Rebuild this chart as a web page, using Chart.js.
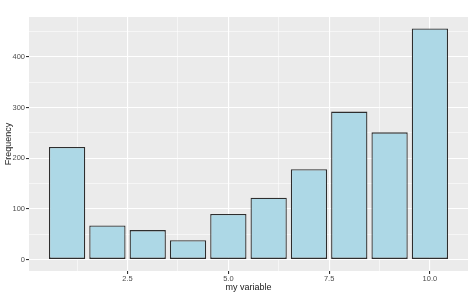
<!DOCTYPE html>
<html>
<head>
<meta charset="utf-8">
<script src="https://cdn.jsdelivr.net/npm/chart.js@4/dist/chart.umd.min.js"></script>
<style>
  html, body { margin: 0; padding: 0; background: #fff; }
  #wrap { width: 474px; height: 296px; }
</style>
</head>
<body>
<div id="wrap"><canvas id="histChart"></canvas></div>
<script>
// histogram bins of "my variable" and their counts
const binCenters = [1, 2, 3, 4, 5, 6, 7, 8, 9, 10];
const frequencies = [222, 67, 58, 38, 90, 122, 178, 292, 251, 456];

// axis ticks (major ones get labels, minor ones only a grid line)
const xTicks = [1.25, 2.5, 3.75, 5.0, 6.25, 7.5, 8.75, 10.0];
const xLabels = ['2.5', '5.0', '7.5', '10.0'];
const yTicks = [0, 50, 100, 150, 200, 250, 300, 350, 400, 450];
const yLabels = ['0', '100', '200', '300', '400'];

const isMajorX = v => xLabels.includes(v.toFixed(1));
const isMajorY = v => yLabels.includes(String(v));

const panelBg = {
    id: 'panelBg',
    beforeDraw(chart) {
        const { ctx, chartArea: a } = chart;
        ctx.save();
        ctx.fillStyle = '#EBEBEB';
        ctx.fillRect(a.left, a.top, a.right - a.left, a.bottom - a.top);
        ctx.restore();
    }
};

const ctx = document.getElementById('histChart').getContext('2d');
new Chart(ctx, {
    type: 'bar',
    data: {
        datasets: [{
            label: 'count',
            data: binCenters.map((x, i) => ({ x: x, y: frequencies[i] })),
            backgroundColor: '#ADD8E6',
            borderColor: '#2E2E2E',
            borderWidth: 1.3,
            borderSkipped: false,
            categoryPercentage: 1,
            barPercentage: 0.9
        }]
    },
    plugins: [panelBg],
    options: {
        responsive: true,
        maintainAspectRatio: false,
        animation: false,
        layout: { padding: { top: 17, right: 6, left: 0, bottom: 0 } },
        plugins: { legend: { display: false }, tooltip: { enabled: false } },
        scales: {
            x: {
                type: 'linear',
                min: 0.055,
                max: 10.945,
                offset: false,
                afterBuildTicks: s => { s.ticks = xTicks.map(v => ({ value: v })); },
                afterFit: s => { s.height = 25; },
                border: { display: false },
                grid: {
                    offset: false,
                    color: '#FFFFFF',
                    lineWidth: c => isMajorX(c.tick.value) ? 1.1 : 0.55,
                    tickLength: 3,
                    tickColor: c => isMajorX(c.tick.value) ? '#333333' : 'rgba(0,0,0,0)'
                },
                ticks: {
                    padding: 0.5,
                    maxRotation: 0,
                    autoSkip: false,
                    color: '#4D4D4D',
                    font: { family: 'Liberation Sans', size: 7.5 },
                    callback: v => isMajorX(v) ? v.toFixed(1) : ''
                },
                title: {
                    display: true,
                    text: 'my variable',
                    color: '#1A1A1A',
                    font: { family: 'Liberation Sans', size: 9 },
                    padding: { top: 0, bottom: 3 }
                }
            },
            y: {
                min: -22.8,
                max: 478.8,
                afterBuildTicks: s => { s.ticks = yTicks.map(v => ({ value: v })); },
                afterFit: s => { s.width = 29; },
                border: { display: false },
                grid: {
                    color: '#FFFFFF',
                    lineWidth: c => isMajorY(c.tick.value) ? 1.1 : 0.55,
                    tickLength: 3,
                    tickColor: c => isMajorY(c.tick.value) ? '#333333' : 'rgba(0,0,0,0)'
                },
                ticks: {
                    padding: 1,
                    autoSkip: false,
                    color: '#4D4D4D',
                    font: { family: 'Liberation Sans', size: 7.5 },
                    callback: v => isMajorY(v) ? String(v) : ''
                },
                title: {
                    display: true,
                    text: 'Frequency',
                    color: '#1A1A1A',
                    font: { family: 'Liberation Sans', size: 9 },
                    padding: { top: 3.5, bottom: 0 }
                }
            }
        }
    }
});
</script>
</body>
</html>
